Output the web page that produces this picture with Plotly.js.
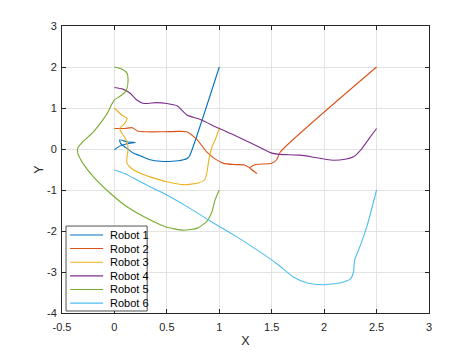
<!DOCTYPE html>
<html>
<head>
<meta charset="utf-8">
<script src="https://cdn.plot.ly/plotly-3.0.1.min.js"></script>
<style>html,body{margin:0;padding:0;background:#fff;}#chart{width:474px;height:354px;}</style>
</head>
<body>
<div id="chart"></div>
<script>
// ---- data ----
const robotNames = ["Robot 1", "Robot 2", "Robot 3", "Robot 4", "Robot 5", "Robot 6"];
const robotColors = ["#0072BD", "#D95319", "#EDB120", "#7E2F8E", "#77AC30", "#4DBEEE"];

const robot1X = [0, 0.05, 0.12, 0.2, 0.13, 0.05, 0.06, 0.1, 0.18, 0.26, 0.34, 0.44, 0.55, 0.65, 0.7, 0.72, 1.0];
const robot1Y = [-0.02, 0.07, 0.13, 0.16, 0.17, 0.22, 0.13, 0.05, -0.1, -0.18, -0.26, -0.3, -0.3, -0.27, -0.22, -0.15, 2.0];

const robot2X = [0, 0.1, 0.17, 0.22, 0.3, 0.45, 0.6, 0.69, 0.79, 0.88, 0.96, 1.04, 1.15, 1.24, 1.29, 1.36, 1.29, 1.35, 1.5, 1.55, 1.58, 2.5];
const robot2Y = [0.5, 0.5, 0.52, 0.44, 0.42, 0.42, 0.43, 0.42, 0.22, -0.07, -0.24, -0.35, -0.38, -0.39, -0.46, -0.6, -0.46, -0.38, -0.35, -0.25, -0.08, 2.0];

const robot3X = [0, 0.07, 0.12, 0.1, 0.05, 0.07, 0.12, 0.13, 0.12, 0.12, 0.16, 0.25, 0.34, 0.5, 0.66, 0.8, 0.86, 0.88, 0.9, 0.93, 0.96, 1.0];
const robot3Y = [1.0, 0.83, 0.75, 0.63, 0.5, 0.39, 0.18, -0.02, -0.19, -0.35, -0.47, -0.6, -0.68, -0.8, -0.87, -0.83, -0.75, -0.6, -0.27, 0.05, 0.22, 0.5];

const robot4X = [0, 0.08, 0.15, 0.21, 0.28, 0.4, 0.5, 0.6, 0.69, 0.82, 0.99, 1.14, 1.37, 1.5, 1.58, 1.77, 1.9, 2.06, 2.2, 2.28, 2.35, 2.43, 2.5];
const robot4Y = [1.5, 1.46, 1.36, 1.2, 1.11, 1.13, 1.11, 1.05, 0.83, 0.72, 0.51, 0.34, 0.06, -0.1, -0.13, -0.15, -0.2, -0.27, -0.25, -0.19, -0.02, 0.26, 0.5];

const robot5X = [0, 0.07, 0.12, 0.13, 0.12, 0.1, 0.05, 0, -0.03, -0.06, -0.11, -0.2, -0.3, -0.35, -0.35, -0.3, -0.2, -0.04, 0.12, 0.31, 0.5, 0.66, 0.79, 0.88, 0.93, 0.96, 1.0];
const robot5Y = [2.0, 1.95, 1.85, 1.68, 1.48, 1.38, 1.28, 1.2, 1.07, 0.91, 0.71, 0.42, 0.18, 0.02, -0.1, -0.35, -0.68, -1.08, -1.41, -1.69, -1.91, -1.98, -1.93, -1.77, -1.53, -1.24, -1.0];

const robot6X = [0, 0.1, 0.18, 0.34, 0.5, 0.69, 0.91, 1.14, 1.36, 1.55, 1.71, 1.84, 1.98, 2.16, 2.25, 2.28, 2.29, 2.35, 2.41, 2.5];
const robot6Y = [-0.51, -0.6, -0.71, -0.92, -1.12, -1.4, -1.75, -2.1, -2.46, -2.8, -3.13, -3.27, -3.31, -3.26, -3.17, -3.0, -2.72, -2.32, -1.87, -1.0];

const xTicks = [-0.5, 0, 0.5, 1, 1.5, 2, 2.5, 3];
const xTickLabels = ["-0.5", "0", "0.5", "1", "1.5", "2", "2.5", "3"];
const yTicks = [-4, -3, -2, -1, 0, 1, 2, 3];
const yTickLabels = ["-4", "-3", "-2", "-1", "0", "1", "2", "3"];

// ---- build ----
const xs = [robot1X, robot2X, robot3X, robot4X, robot5X, robot6X];
const ys = [robot1Y, robot2Y, robot3Y, robot4Y, robot5Y, robot6Y];

const traces = robotNames.map((n, i) => ({
  type: "scatter", mode: "lines", name: n,
  x: xs[i], y: ys[i],
  line: {color: robotColors[i], width: 1.1, shape: "spline", smoothing: 0.6},
  showlegend: false, hoverinfo: "skip"
}));

const axisCol = "#262626";
const fontFam = "Liberation Sans, Arial, sans-serif";

// custom compact legend (MATLAB style) in paper coords
const lgX0 = 0.011, lgX1 = 0.232, lgY0 = 0.007, lgY1 = 0.303;
const lineX0 = 0.022, lineX1 = 0.112, textX = 0.124;
const rowTop = 0.272, rowStep = 0.0475;
const shapes = [{
  type: "rect", xref: "paper", yref: "paper", x0: lgX0, x1: lgX1, y0: lgY0, y1: lgY1,
  line: {color: axisCol, width: 0.8}, fillcolor: "#ffffff", layer: "above"
}];
const annotations = [];
robotNames.forEach((n, i) => {
  const yy = rowTop - i * rowStep;
  shapes.push({type: "line", xref: "paper", yref: "paper", x0: lineX0, x1: lineX1, y0: yy, y1: yy,
    line: {color: robotColors[i], width: 1.1}, layer: "above"});
  annotations.push({xref: "paper", yref: "paper", x: textX, y: yy, xanchor: "left", yanchor: "middle",
    text: n, showarrow: false, font: {family: fontFam, size: 11, color: "#000"}});
});

const layout = {
  width: 474, height: 354,
  margin: {l: 62, r: 45, t: 26, b: 41, pad: 0},
  paper_bgcolor: "#ffffff", plot_bgcolor: "#ffffff",
  font: {family: fontFam, size: 11, color: axisCol},
  showlegend: false,
  xaxis: {
    range: [-0.5, 3], tickmode: "array", tickvals: xTicks, ticktext: xTickLabels,
    showgrid: true, gridcolor: "#e3e3e3", gridwidth: 1, zeroline: false,
    showline: true, linecolor: axisCol, linewidth: 1, mirror: "ticks",
    ticks: "inside", ticklen: 4, tickcolor: axisCol, tickwidth: 1,
    tickfont: {family: fontFam, size: 11, color: axisCol}, ticklabelstandoff: 4,
    title: {text: "X", font: {family: fontFam, size: 12.5, color: axisCol}, standoff: 4}
  },
  yaxis: {
    range: [-4, 3], tickmode: "array", tickvals: yTicks, ticktext: yTickLabels,
    showgrid: true, gridcolor: "#e3e3e3", gridwidth: 1, zeroline: false,
    showline: true, linecolor: axisCol, linewidth: 1, mirror: "ticks",
    ticks: "inside", ticklen: 4, tickcolor: axisCol, tickwidth: 1,
    tickfont: {family: fontFam, size: 11, color: axisCol}, ticklabelstandoff: 2,
    title: {text: "Y", font: {family: fontFam, size: 12.5, color: axisCol}, standoff: 0}
  },
  shapes: shapes,
  annotations: annotations
};

Plotly.newPlot("chart", traces, layout, {staticPlot: true, displayModeBar: false});
</script>
</body>
</html>
